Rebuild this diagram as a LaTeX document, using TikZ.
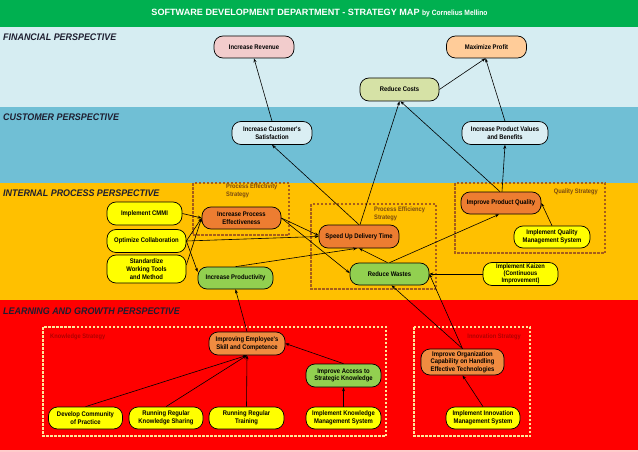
\documentclass[tikz,border=0pt]{standalone}
\usepackage{fontspec}
\setmainfont{Liberation Sans}
\newfontfamily\nodefont[FakeStretch=0.88]{Liberation Sans}
\newfontfamily\secfont[FakeStretch=0.93]{Liberation Sans}
\usetikzlibrary{arrows.meta}
\definecolor{titlegreen}{HTML}{00B050}
\definecolor{finblue}{HTML}{D6EDF2}
\definecolor{custblue}{HTML}{70BFD5}
\definecolor{intyellow}{HTML}{FFC000}
\definecolor{lgred}{HTML}{FF0000}
\definecolor{pinkbox}{HTML}{F2CCCC}
\definecolor{peachbox}{HTML}{FFCC99}
\definecolor{olivebox}{HTML}{D6E2A6}
\definecolor{lbluebox}{HTML}{DAEEF3}
\definecolor{orangebox}{HTML}{ED7D31}
\definecolor{lorangebox}{HTML}{F08C40}
\definecolor{greenbox}{HTML}{92D050}
\definecolor{yellowbox}{HTML}{FFFF00}
\definecolor{stratbrown}{HTML}{A65E1A}
\definecolor{stratlabel}{HTML}{7A4A10}
\definecolor{stratyellow}{HTML}{FFE699}
\definecolor{knowlabel}{HTML}{B00000}
\definecolor{seccol}{HTML}{1E1E30}
\begin{document}
\begin{tikzpicture}[x=1pt,y=-1pt,
  box/.style={draw=black, line width=0.7pt, rounded corners=9pt, align=center,
    inner sep=1pt, text=black,
    font=\nodefont\bfseries\fontsize{6.7}{7.8}\selectfont},
  tightbox/.style={box, inner sep=0pt, font=\nodefont\bfseries\fontsize{6.5}{6.8}\selectfont},
  arr/.style={-{Stealth[length=4pt,width=3pt]}, line width=0.6pt, draw=black},
  seclabel/.style={anchor=west, inner sep=0pt, text=seccol,
    font=\secfont\bfseries\itshape\fontsize{9.6}{11}\selectfont},
  stratint/.style={draw=stratbrown, line width=1.1pt, dash pattern=on 2.5pt off 1.5pt},
  stratlg/.style={draw=stratyellow, line width=1.1pt, dash pattern=on 2.5pt off 1.5pt},
  stratlab/.style={inner sep=0pt, align=left, text=stratlabel,
    font=\nodefont\bfseries\fontsize{6.5}{7.6}\selectfont},
  lglab/.style={inner sep=0pt, align=left, text=knowlabel,
    font=\nodefont\bfseries\fontsize{6.5}{7.6}\selectfont}
]
\useasboundingbox (0,0) rectangle (638,452);
% bands
\fill[white] (0,0) rectangle (638,452);
\fill[titlegreen] (0,0) rectangle (638,27);
\fill[finblue] (0,27) rectangle (638,107);
\fill[custblue] (0,107) rectangle (638,183);
\fill[intyellow] (0,183) rectangle (638,300);
\fill[lgred] (0,300) rectangle (638,450);
\fill[lgred!20] (0,450) rectangle (638,452);

% title
\node[text=white, inner sep=0pt, font=\bfseries\fontsize{9.1}{11}\selectfont] (title) at (319.5,13)
  {SOFTWARE DEVELOPMENT DEPARTMENT - STRATEGY MAP {\nodefont\fontsize{7.6}{9}\selectfont by Cornelius Mellino}};

% section labels
\node[seclabel] (finl) at (3,37) {FINANCIAL PERSPECTIVE};
\node[seclabel] (custl) at (3,117) {CUSTOMER PERSPECTIVE};
\node[seclabel] (intl) at (3,193) {INTERNAL PROCESS PERSPECTIVE};
\node[seclabel] (lgl) at (3,311) {LEARNING AND GROWTH PERSPECTIVE};

% strategy boxes
\draw[stratint] (193,183) rectangle (289,235);
\draw[stratint] (311,204) rectangle (436,289);
\draw[stratint] (455,183) rectangle (605,253);
\draw[stratlg] (43,327) rectangle (386,436);
\draw[stratlg] (414,327) rectangle (530,436);
\node[stratlab, anchor=north west] (lpef) at (226,184) {Process Effectivity\\Strategy};
\node[stratlab, anchor=north west] (lpeff) at (374,207) {Process Efficiency\\Strategy};
\node[stratlab, anchor=north east] (lqual) at (598,189) {Quality Strategy};
\node[lglab, anchor=west] (lknow) at (50,337) {Knowledge Strategy};
\node[lglab, anchor=east] (linno) at (521,337) {Innovation Strategy};

% financial
\node[box, fill=pinkbox, minimum width=80pt, minimum height=22pt] (rev) at (254,47) {Increase Revenue};
\node[box, fill=peachbox, minimum width=80pt, minimum height=22pt] (prof) at (486.5,47) {Maximize Profit};
\node[box, fill=olivebox, minimum width=79pt, minimum height=23pt] (cost) at (399.5,89.5) {Reduce Costs};
% customer
\node[box, fill=lbluebox, minimum width=80pt, minimum height=23pt] (csat) at (272,133) {Increase Customer's\\Satisfaction};
\node[box, fill=lbluebox, minimum width=86pt, minimum height=23pt] (pval) at (505,133) {Increase Product Values\\and Benefits};
% internal
\node[box, fill=yellowbox, minimum width=75pt, minimum height=23pt] (cmmi) at (144.5,213.5) {Implement CMMI};
\node[box, fill=yellowbox, minimum width=79pt, minimum height=23pt] (ocol) at (146.5,241) {Optimize Collaboration};
\node[box, fill=yellowbox, minimum width=79pt, minimum height=28pt] (stdz) at (146.5,269) {Standardize\\Working Tools\\and Method};
\node[box, fill=orangebox, minimum width=79pt, minimum height=22pt] (ipe) at (241.5,218) {Increase Process\\Effectiveness};
\node[box, fill=greenbox, minimum width=75pt, minimum height=22pt] (iprod) at (235.5,278) {Increase Productivity};
\node[box, fill=orangebox, minimum width=80pt, minimum height=23pt] (sudt) at (359,236.5) {Speed Up Delivery Time};
\node[box, fill=greenbox, minimum width=79pt, minimum height=22pt] (rwas) at (389.5,274) {Reduce Wastes};
\node[box, fill=orangebox, minimum width=80pt, minimum height=22pt] (ipq) at (501,203) {Improve Product Quality};
\node[box, fill=yellowbox, minimum width=76pt, minimum height=22pt] (iqms) at (552,237) {Implement Quality\\Management System};
\node[tightbox, fill=yellowbox, minimum width=75pt, minimum height=23pt] (kaiz) at (520.5,274) {Implement Kaizen\\(Continuous\\Improvement)};
% learning and growth
\node[box, fill=lorangebox, minimum width=76pt, minimum height=23pt] (iesc) at (247,343.5) {Improving Employee's\\Skill and Competence};
\node[box, fill=greenbox, minimum width=75pt, minimum height=23pt] (iask) at (343.5,375.5) {Improve Access to\\Strategic Knowledge};
\node[box, fill=lorangebox, inner sep=0pt, font=\nodefont\bfseries\fontsize{6.7}{7.4}\selectfont, minimum width=83pt, minimum height=26pt] (ioc) at (462.5,362) {Improve Organization\\Capability on Handling\\Effective Technologies};
\node[box, fill=yellowbox, minimum width=74pt, minimum height=22pt] (dcp) at (85.5,418) {Develop Community\\of Practice};
\node[box, fill=yellowbox, minimum width=74pt, minimum height=22pt] (rrks) at (166,418) {Running Regular\\Knowledge Sharing};
\node[box, fill=yellowbox, minimum width=75pt, minimum height=22pt] (rrt) at (246.5,418) {Running Regular\\Training};
\node[box, fill=yellowbox, minimum width=75pt, minimum height=22pt] (ikms) at (343.5,418) {Implement Knowledge\\Management System};
\node[box, fill=yellowbox, minimum width=74pt, minimum height=22pt] (iims) at (483,418) {Implement Innovation\\Management System};

% connectors
\draw[arr] (csat.north) -- (rev.south);
\draw[arr] (cost.east) -- ([xshift=-1pt]prof.south);
\draw[arr] (pval.north) -- ([xshift=-1pt]prof.south);
\draw[arr] ([xshift=1pt]sudt.north) -- (cost.south);
\draw[arr] ([xshift=-1pt]ipq.north) -- ([xshift=1pt]cost.south);
\draw[arr] ([xshift=1pt]ipq.north) -- (pval.south);
\draw[arr] (sudt.north) -- (csat.south);
\draw[arr] (cmmi.east) -- (ipe.west);
\draw[arr] (ocol.east) -- (ipe.west);
\draw[arr] ([yshift=4pt]stdz.east) -- (ipe.west);
\draw[arr] (ocol.east) -- ([yshift=6pt]iprod.west);
\draw[arr] (ocol.east) -- (sudt.west);
\draw[arr] (ipe.east) -- ([yshift=1pt]sudt.west);
\draw[arr] (ipe.east) -- ([yshift=1pt]rwas.west);
\draw[arr] (iprod.north) -- ([xshift=-2pt]sudt.south);
\draw[arr] ([xshift=-2pt]rwas.north) -- (sudt.south);
\draw[arr] (rwas.north) -- ([xshift=-2pt]ipq.south);
\draw[arr] (iqms.north) -- (ipq.east);
\draw[arr] (kaiz.west) -- (rwas.east);
\draw[arr] (ioc.north) -- ([xshift=2pt]rwas.south);
\draw[arr] (ioc.north) -- (rwas.east);
\draw[arr] (iims.north) -- (ioc.south);
\draw[arr] (iesc.north) -- (iprod.south);
\draw[arr] (iask.north) -- (iesc.east);
\draw[arr] (dcp.north) -- (iesc.south);
\draw[arr] (rrks.north) -- (iesc.south);
\draw[arr] (rrt.north) -- (iesc.south);
\draw[arr] (ikms.north) -- (iask.south);
\end{tikzpicture}
\end{document}
